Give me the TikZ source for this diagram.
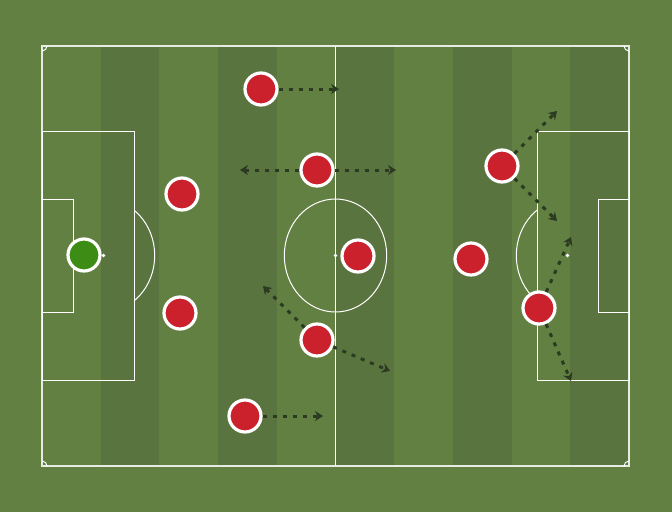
\documentclass[tikz,border=0pt]{standalone}
\usetikzlibrary{arrows.meta,shadows}

\definecolor{grass}{HTML}{628042}
\definecolor{stripe}{HTML}{5A743F}
\definecolor{kit}{HTML}{CB212D}
\definecolor{keeper}{HTML}{3D8C15}
\definecolor{runline}{HTML}{2B3A20}

\begin{document}
\begin{tikzpicture}[x=1pt,y=-1pt,>={Stealth[length=8pt,width=10pt,line width=0.8pt]},
    player/.style={circle, draw=white, line width=3.2pt, fill=kit, minimum size=32pt, inner sep=0pt,
        drop shadow={shadow xshift=0.8pt, shadow yshift=-1pt, opacity=0.25}},
    run/.style={->, draw=runline, line width=3pt, dash pattern=on 4pt off 6pt},
    marking/.style={draw=white, line width=1pt}]
        % grass and stripes
        \fill[grass] (0,0) rectangle (672,512);
        \foreach \k in {1,3,...,9}
          \fill[stripe] ({42+58.7*\k},46) rectangle ({42+58.7*(\k+1)},466);

        % markings
        \draw[marking, draw=white!85!grass, line width=1.3pt] (42,46) rectangle (629,466);
        \draw[marking] (335.5,46) -- (335.5,466);
        \draw[marking] (335.5,255.5) ellipse [x radius=51.2, y radius=56.5];
        \draw[marking] (42,131) rectangle (134,380);
        \draw[marking] (629,131) rectangle (537,380);
        \draw[marking] (42,199) rectangle (73,312);
        \draw[marking] (629,199) rectangle (598,312);
        \begin{scope}
          \clip (134,46) rectangle (537,466);
          \draw[marking] (103.5,255.5) ellipse [x radius=51.2, y radius=56.5];
          \draw[marking] (567.5,255.5) ellipse [x radius=51.2, y radius=56.5];
        \end{scope}
        \begin{scope}
          \clip (42,46) rectangle (629,466);
          \foreach \cx/\cy in {42/46,629/46,42/466,629/466}
            \draw[marking] (\cx,\cy) circle [radius=5];
        \end{scope}
        \foreach \sx in {103.5,335.5,567.5}
          \fill[white] (\sx,255.5) circle [radius=1.8];

        % players
        \node[player, fill=keeper] (1) at (84,255) {};
        \node[player] (2) at (182,194) {};
        \node[player] (3) at (180,313) {};
        \node[player] (4) at (261,89) {};
        \node[player] (5) at (317,170) {};
        \node[player] (6) at (317,340) {};
        \node[player] (7) at (245,416) {};
        \node[player] (8) at (358,256) {};
        \node[player] (9) at (502,166) {};
        \node[player] (10) at (471,259) {};
        \node[player] (11) at (539,308) {};

        % runs
        \coordinate (t1) at (339,89);
        \coordinate (t2) at (240,170);
        \coordinate (t3) at (396,170);
        \coordinate (t4) at (263,286);
        \coordinate (t5) at (390,371);
        \coordinate (t6) at (323,416);
        \coordinate (t7) at (557,111);
        \coordinate (t8) at (557,221);
        \coordinate (t9) at (571,237);
        \coordinate (t10) at (571,381);

        \path[every edge/.style={run}]
          (4) edge (t1)
          (5) edge (t2)
              edge (t3)
          (6) edge (t4)
              edge (t5)
          (7) edge (t6)
          (9) edge (t7)
              edge (t8)
          (11) edge (t9)
               edge (t10);
\end{tikzpicture}
\end{document}
